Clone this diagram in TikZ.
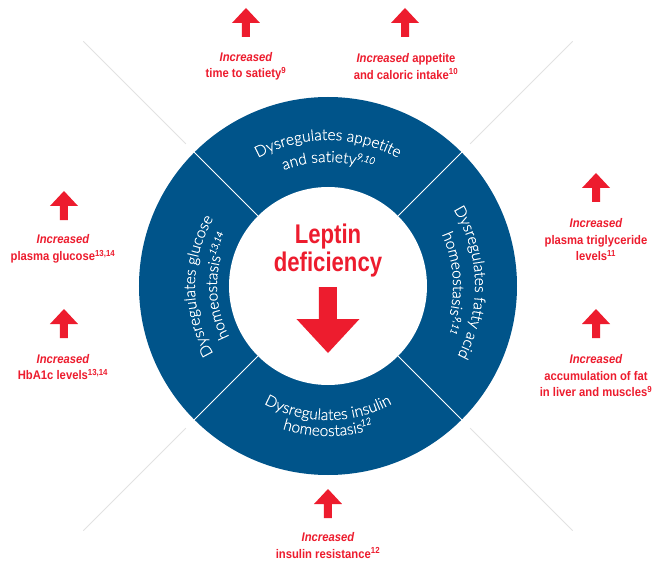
\documentclass[tikz,border=0pt]{standalone}
\usepackage{fontspec}
\setmainfont{Liberation Sans}
\newfontfamily\redfont[FakeStretch=0.9]{Liberation Sans}
\newfontfamily\bigfont[FakeStretch=0.82]{Liberation Sans}
\newfontfamily\ringfont[FakeBold=0.6]{Lato Light}
\usetikzlibrary{decorations.text}

\definecolor{leptblue}{RGB}{0,84,138}
\definecolor{leptred}{RGB}{237,28,46}
\definecolor{guide}{RGB}{226,226,226}

\newcommand\rf{\ringfont\fontsize{15.5}{18}\selectfont}
\newcommand\rsup[1]{\kern-1pt\raisebox{5.5pt}{\fontsize{9.5}{10}\selectfont\itshape #1}}

\tikzset{
  lbl/.style={text=leptred, align=center, inner sep=0pt,
    font=\redfont\bfseries\fontsize{12.5}{16.5}\selectfont},
  uparr/.pic={\fill[leptred] (-4,0) -- (-4,14) -- (-14,14) -- (0,29)
    -- (14,14) -- (4,14) -- (4,0) -- cycle;},
  ringtext/.style={decorate, decoration={text along path, text={#1},
    text align=center, text color=white}},
}

\begin{document}
\begin{tikzpicture}[x=1pt, y=1pt]
  \useasboundingbox[fill=white] (-328,-279) rectangle (339,286);

  % guide lines and ring
  \foreach \a in {45,135,225,315}
    \draw[guide, line width=0.9pt] (\a:201pt) -- (\a:346pt);
  \fill[leptblue] (0,0) circle[radius=189pt];
  \fill[white] (0,0) circle[radius=99pt];
  \foreach \a in {45,135,225,315}
    \draw[white, line width=1pt] (\a:98pt) -- (\a:190pt);

  % ring texts
  \path[ringtext={|\rf|Dysregulates appetite}]
    (160:146pt) arc[start angle=160, end angle=20, radius=146pt];
  \path[ringtext={|\rf|and satiety{\rsup{9,10}}}]
    (160:124pt) arc[start angle=160, end angle=20, radius=124pt];
  \path[ringtext={|\rf|Dysregulates glucose}]
    (250:133pt) arc[start angle=250, end angle=110, radius=133pt];
  \path[ringtext={|\rf|homeostasis{\rsup{13,14}}}]
    (250:111pt) arc[start angle=250, end angle=110, radius=111pt];
  \path[ringtext={|\rf|Dysregulates fatty acid}]
    (71.5:147pt) arc[start angle=71.5, end angle=-68.5, radius=147pt];
  \path[ringtext={|\rf|homeostasis{\rsup{9,11}}}]
    (71.5:125pt) arc[start angle=71.5, end angle=-68.5, radius=125pt];
  \path[ringtext={|\rf|Dysregulates insulin}]
    (200:134pt) arc[start angle=200, end angle=340, radius=134pt];
  \path[ringtext={|\rf|homeostasis{\rsup{12}}}]
    (200:150pt) arc[start angle=200, end angle=340, radius=150pt];

  % centre
  \node[text=leptred, align=center, inner sep=0pt,
    font=\bigfont\bfseries\fontsize{27}{28}\selectfont] (leptin) at (0,35)
    {Leptin\\deficiency};
  \fill[leptred] (-9,-1) -- (-9,-33) -- (-31.5,-33) -- (0,-67)
    -- (31.5,-33) -- (9,-33) -- (9,-1) -- cycle;

  % outcomes
  \pic at (-82,249) {uparr};
  \node[lbl] (satiety) at (-82,219.5)
    {\textit{Increased}\\time to satiety\textsuperscript{9}};
  \pic at (77,249) {uparr};
  \node[lbl] (appetite) at (78,219.5)
    {\textit{Increased} appetite\\and caloric intake\textsuperscript{10}};
  \pic at (-264,66) {uparr};
  \node[lbl] (glucose) at (-265,37)
    {\textit{Increased}\\plasma glucose\textsuperscript{13,14}};
  \pic at (-264,-52) {uparr};
  \node[lbl] (hba1c) at (-265,-81)
    {\textit{Increased}\\HbA1c levels\textsuperscript{13,14}};
  \pic at (268,84) {uparr};
  \node[lbl] (trig) at (268,46)
    {\textit{Increased}\\plasma triglyceride\\levels\textsuperscript{11}};
  \pic at (268,-52) {uparr};
  \node[lbl] (fat) at (268,-90)
    {\textit{Increased}\\accumulation of fat\\in liver and muscles\textsuperscript{9}};
  \pic at (0,-232) {uparr};
  \node[lbl] (insres) at (0,-259.5)
    {\textit{Increased}\\insulin resistance\textsuperscript{12}};
\end{tikzpicture}
\end{document}
